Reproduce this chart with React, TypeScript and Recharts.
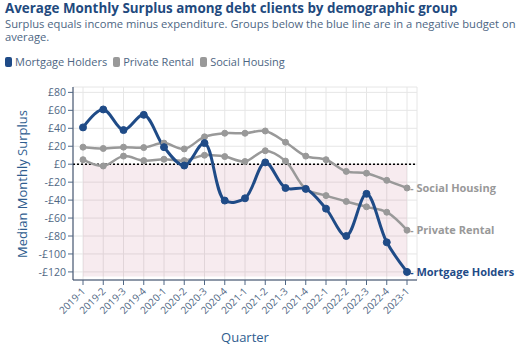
import { CartesianGrid, LabelList, Line, LineChart, ReferenceArea, ReferenceLine, XAxis, YAxis } from 'recharts';

const quarters = [
  '2019-1', '2019-2', '2019-3', '2019-4', '2020-1', '2020-2', '2020-3', '2020-4',
  '2021-1', '2021-2', '2021-3', '2021-4', '2022-1', '2022-2', '2022-3', '2022-4', '2023-1',
];
const mortgageHolders = [41, 61, 38, 55, 19, -1.5, 23.5, -40.5, -38, 2, -26.5, -27.5, -49.5, -80, -33, -87, -120];
const privateRental = [5, -2, 9, 4, 5.5, 4, 10, 8.5, 3, 15, 3.5, -27.5, -35, -41.5, -47.5, -53.5, -73.5];
const socialHousing = [19, 17.5, 19, 18.5, 23.5, 17, 30.5, 34.5, 34.5, 37, 24.5, 9, 5, -8, -10, -18, -26.5];
const yTicks = [-120, -100, -80, -60, -40, -20, 0, 20, 40, 60, 80];

const NAVY = '#1f4b87';
const GREY = '#999999';
const FONT = '"Open Sans", sans-serif';

const data = quarters.map((q, i) => ({
  quarter: q,
  mortgage: mortgageHolders[i],
  rental: privateRental[i],
  social: socialHousing[i],
}));

// plotly-style spline (catmull-rom with distance weighting)
function makeTangent(p0: number[], p1: number[], p2: number[], s: number) {
  const d1x = p0[0] - p1[0];
  const d1y = p0[1] - p1[1];
  const d2x = p2[0] - p1[0];
  const d2y = p2[1] - p1[1];
  const d1a = Math.pow(d1x * d1x + d1y * d1y, 0.25);
  const d2a = Math.pow(d2x * d2x + d2y * d2y, 0.25);
  const numx = (d2a * d2a * d1x - d1a * d1a * d2x) * s;
  const numy = (d2a * d2a * d1y - d1a * d1a * d2y) * s;
  const den1 = 3 * d2a * (d1a + d2a);
  const den2 = 3 * d1a * (d1a + d2a);
  return [
    [p1[0] + (den1 && numx / den1), p1[1] + (den1 && numy / den1)],
    [p1[0] - (den2 && numx / den2), p1[1] - (den2 && numy / den2)],
  ];
}

function splineCurve(ctx: any) {
  let pts: number[][] = [];
  return {
    areaStart() {},
    areaEnd() {},
    lineStart() {
      pts = [];
    },
    point(x: number, y: number) {
      pts.push([+x, +y]);
    },
    lineEnd() {
      const n = pts.length;
      if (!n) return;
      ctx.moveTo(pts[0][0], pts[0][1]);
      if (n < 3) {
        for (let i = 1; i < n; i++) ctx.lineTo(pts[i][0], pts[i][1]);
        return;
      }
      const tg: number[][][] = [];
      for (let i = 1; i < n - 1; i++) tg.push(makeTangent(pts[i - 1], pts[i], pts[i + 1], 1));
      ctx.quadraticCurveTo(tg[0][0][0], tg[0][0][1], pts[1][0], pts[1][1]);
      for (let i = 2; i < n - 1; i++) {
        ctx.bezierCurveTo(tg[i - 2][1][0], tg[i - 2][1][1], tg[i - 1][0][0], tg[i - 1][0][1], pts[i][0], pts[i][1]);
      }
      ctx.quadraticCurveTo(tg[n - 3][1][0], tg[n - 3][1][1], pts[n - 1][0], pts[n - 1][1]);
    },
  };
}

function endLabel(name: string, color: string) {
  return (props: any) => {
    if (props.index !== quarters.length - 1) return null;
    return (
      <text x={props.x + 3} y={props.y + 4} fill={color} fontSize={11} fontWeight={700} fontFamily={FONT}>
        - {name}
      </text>
    );
  };
}

function XTick({ x, y, payload }: any) {
  return (
    <text
      x={x + 3}
      y={y + 5}
      transform={`rotate(-45 ${x + 3} ${y + 5})`}
      textAnchor="end"
      fill="#506784"
      fontSize={10}
      fontFamily={FONT}
    >
      {payload.value}
    </text>
  );
}

const fmtMoney = (v: number) => (v < 0 ? `-£${-v}` : `£${v}`);

function LegendItem({ label, color }: { label: string; color: string }) {
  return (
    <span style={{ display: 'inline-flex', alignItems: 'center', marginRight: 6 }}>
      <span style={{ width: 7, height: 10, borderRadius: 2, background: color, marginRight: 3 }} />
      <span>{label}</span>
    </span>
  );
}

export default function App() {
  return (
    <div
      style={{
        position: 'absolute',
        left: 0,
        top: 0,
        width: 528,
        height: 362,
        background: '#fff',
        fontFamily: FONT,
        overflow: 'hidden',
      }}
    >
      <div style={{ position: 'absolute', left: 5, top: -1, fontSize: 13.4, lineHeight: '18px', fontWeight: 700, color: '#1f4a7e', whiteSpace: 'nowrap' }}>
        Average Monthly Surplus among debt clients by demographic group
      </div>
      <div style={{ position: 'absolute', left: 5, top: 17, width: 515, fontSize: 11.2, lineHeight: '13px', color: '#4d6683' }}>
        Surplus equals income minus expenditure. Groups below the blue line are in a negative budget on average.
      </div>
      <div style={{ position: 'absolute', left: 5, top: 54, fontSize: 11, lineHeight: '16px', color: '#4d6683', whiteSpace: 'nowrap' }}>
        <LegendItem label="Mortgage Holders" color={NAVY} />
        <LegendItem label="Private Rental" color={GREY} />
        <LegendItem label="Social Housing" color={GREY} />
      </div>
      <div
        style={{
          position: 'absolute',
          left: 22,
          top: 184,
          transform: 'translate(-50%, -50%) rotate(-90deg)',
          fontSize: 13,
          color: '#2f5d8f',
          whiteSpace: 'nowrap',
        }}
      >
        Median Monthly Surplus
      </div>
      <div style={{ position: 'absolute', left: 245, top: 337, transform: 'translate(-50%, -50%)', fontSize: 13, color: '#2f5d8f' }}>
        Quarter
      </div>
      <div style={{ position: 'absolute', left: 0, top: 80 }}>
        <LineChart width={528} height={282} data={data} margin={{ top: 7, right: 111, bottom: 20, left: 13 }}>
          <CartesianGrid stroke="#e6e6e6" strokeWidth={1} />
          <ReferenceArea y1={-125} y2={0} fill="#c0587f" fillOpacity={0.12} stroke="none" ifOverflow="hidden" />
          <XAxis
            dataKey="quarter"
            interval={0}
            padding={{ left: 10, right: 10 }}
            height={62}
            tick={<XTick />}
            tickSize={5}
            stroke="#2a3f5f"
            tickLine={{ stroke: '#506784' }}
          />
          <YAxis
            width={60}
            domain={[-129, 86]}
            ticks={yTicks}
            interval={0}
            tickFormatter={fmtMoney}
            tickSize={5}
            stroke="#2a3f5f"
            tickLine={{ stroke: '#506784' }}
            tick={{ fill: '#506784', fontSize: 10.5, fontFamily: FONT }}
          />
          <ReferenceLine y={0} stroke="#000" strokeWidth={1.5} strokeDasharray="2 2" />
          <Line
            dataKey="rental"
            type={splineCurve as any}
            stroke={GREY}
            strokeWidth={2.5}
            dot={{ r: 3, fill: GREY, stroke: GREY, strokeWidth: 1 }}
            isAnimationActive={false}
          >
            <LabelList dataKey="rental" content={endLabel('Private Rental', GREY)} />
          </Line>
          <Line
            dataKey="social"
            type={splineCurve as any}
            stroke={GREY}
            strokeWidth={2.5}
            dot={{ r: 3, fill: GREY, stroke: GREY, strokeWidth: 1 }}
            isAnimationActive={false}
          >
            <LabelList dataKey="social" content={endLabel('Social Housing', GREY)} />
          </Line>
          <Line
            dataKey="mortgage"
            type={splineCurve as any}
            stroke={NAVY}
            strokeWidth={3}
            dot={{ r: 3.5, fill: NAVY, stroke: NAVY, strokeWidth: 1 }}
            isAnimationActive={false}
          >
            <LabelList dataKey="mortgage" content={endLabel('Mortgage Holders', NAVY)} />
          </Line>
        </LineChart>
      </div>
    </div>
  );
}
